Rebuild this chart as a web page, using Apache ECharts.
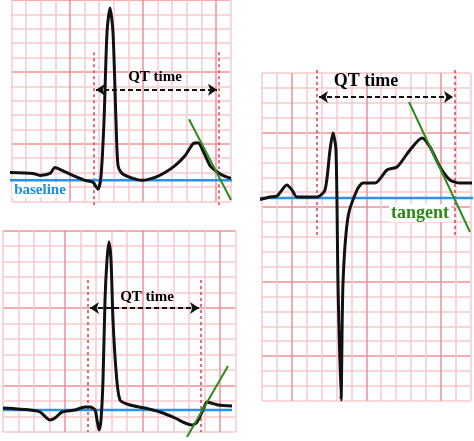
<!DOCTYPE html><html><head><meta charset="utf-8">
<script src="https://cdn.jsdelivr.net/npm/echarts@6/dist/echarts.min.js"></script>
<style>html,body{margin:0;background:#fff}#c{width:474px;height:441px}</style></head><body><div id="c"></div>
<script>
// ECG traces, readings in picture pixels
const ecgA=[[8,172],[33,173],[40,175],[50,173],[55,167],[62,170],[75,176],[85,180],[93,182],[98,189],[101,176],[104,120],[107,30],[110,5],[113,30],[116,120],[118,165],[122,173],[130,177],[142,180],[155,177],[165,172],[175,165],[185,155],[193,143],[198,142],[203,150],[210,165],[218,172],[225,176],[231,178]];
const ecgB=[[258,200],[270,197],[277,196],[287,185],[292,190],[297,197],[317,197],[325,190],[330,150],[333,133],[336,150],[338,283],[341,400],[343,283],[348,217],[357,190],[363,183],[375,183],[387,170],[397,167],[410,150],[422,138],[430,147],[440,167],[450,180],[460,183],[472,183]];
const ecgC=[[3,408],[30,410],[40,412],[50,420],[55,418],[62,412],[75,410],[85,407],[90,407],[95,410],[97,420],[99,430],[101,420],[103,380],[105,300],[107,260],[109,242],[111,260],[113,320],[116,370],[120,400],[130,405],[145,408],[160,412],[175,418],[185,423],[192,425],[197,422],[203,410],[207,402],[211,403],[218,405],[232,406]];
const baselineA=[[8,180],[232,180]], baselineB=[[258,198],[474,198]], baselineC=[[3,410],[232,410]];
const tangentA=[[189,118],[231,200]], tangentB=[[409,102],[470,232]], tangentC=[[187,437],[228,366]];
const qtA=[94,219,88,50,205], qtB=[317,455,97,70,238], qtC=[88,201,308,280,432]; // xStart,xEnd,arrowY,lineTop,lineBottom
const labels={qt:'QT time',base:'baseline',tan:'tangent'};

const panels=[
 {x0:11.6,y0:-3,s:14.6,nx:15,ny:14,xc:4,yc:0,ecg:ecgA,base:baselineA,tan:tangentA,qt:qtA,fs:15,lab:[[155,75]],extra:[{t:labels.base,p:[40,190],c:'#1a8de0'}]},
 {x0:262,y0:73,s:14.9,nx:14,ny:22,xc:2,yc:4,ecg:ecgB,base:baselineB,tan:tangentB,qt:qtB,fs:18,lab:[[366,81]],extra:[{t:labels.tan,p:[420,213],c:'#2a8a18'}]},
 {x0:3,y0:230.5,s:15.5,nx:15,ny:13,xc:4,yc:0,ecg:ecgC,base:baselineC,tan:tangentC,qt:qtC,fs:15,lab:[[147,297]],extra:[]}
];
const m='#f7c9cc',M='#ee8f97';
function cyc(k){const a=[m,m,m,m,m];a[k]=M;return a;}
const grid=[],xAxis=[],yAxis=[],series=[];
panels.forEach((p,i)=>{
 const conv=q=>[(q[0]-p.x0)/p.s,(q[1]-p.y0)/p.s];
 grid.push({left:p.x0,top:p.y0,width:p.nx*p.s,height:p.ny*p.s,containLabel:false});
 const ax={gridIndex:i,type:'value',min:0,interval:1,axisLine:{show:false},axisTick:{show:false},axisLabel:{show:false}};
 xAxis.push(Object.assign({},ax,{max:p.nx,splitLine:{show:true,lineStyle:{color:cyc(p.xc),width:1.5}}}));
 yAxis.push(Object.assign({},ax,{max:p.ny,inverse:true,splitLine:{show:true,lineStyle:{color:cyc(p.yc),width:1.5}}}));
 const base={xAxisIndex:i,yAxisIndex:i,symbol:'none',silent:true,animation:false,clip:false};
 series.push(Object.assign({},base,{type:'line',data:p.base.map(conv),lineStyle:{color:'#2a93e6',width:2.5},z:3}));
 const q=p.qt;
 [q[0],q[1]].forEach(x=>series.push(Object.assign({},base,{type:'line',data:[conv([x,q[3]]),conv([x,q[4]])],lineStyle:{color:'#e25b6e',width:1.8,type:[3,3]},z:2})));
 series.push(Object.assign({},base,{type:'line',data:p.ecg.map(conv),smooth:0.25,lineStyle:{color:'#111',width:3},z:4}));
 series.push(Object.assign({},base,{type:'line',data:p.tan.map(conv),lineStyle:{color:'#2e8b1e',width:2},z:5}));
 series.push(Object.assign({},base,{type:'lines',coordinateSystem:'cartesian2d',symbol:['arrow','arrow'],symbolSize:9,data:[{coords:[conv([q[0]+2,q[2]]),conv([q[1]-2,q[2]])]}],lineStyle:{color:'#111',width:2,type:[5,3],opacity:1},z:5}));
 const txt=[{value:conv(p.lab[0]),t:labels.qt,c:'#000'}].concat(p.extra.map(e=>({value:conv(e.p),t:e.t,c:e.c})));
 series.push({type:'scatter',xAxisIndex:i,yAxisIndex:i,silent:true,animation:false,symbol:'circle',symbolSize:2,itemStyle:{color:'rgba(0,0,0,0)'},z:6,labelLayout:{hideOverlap:false},data:txt.map(d=>({value:d.value,label:{show:true,opacity:1,position:'inside',formatter:d.t,color:d.c,fontFamily:'Liberation Serif',fontWeight:'bold',fontSize:p.fs,backgroundColor:d.t===labels.qt?'transparent':'#fff',padding:[0,2]}}))});
});
const ch=echarts.init(document.getElementById('c'));
ch.setOption({backgroundColor:'#fff',animation:false,grid,xAxis,yAxis,series});
</script></body></html>
